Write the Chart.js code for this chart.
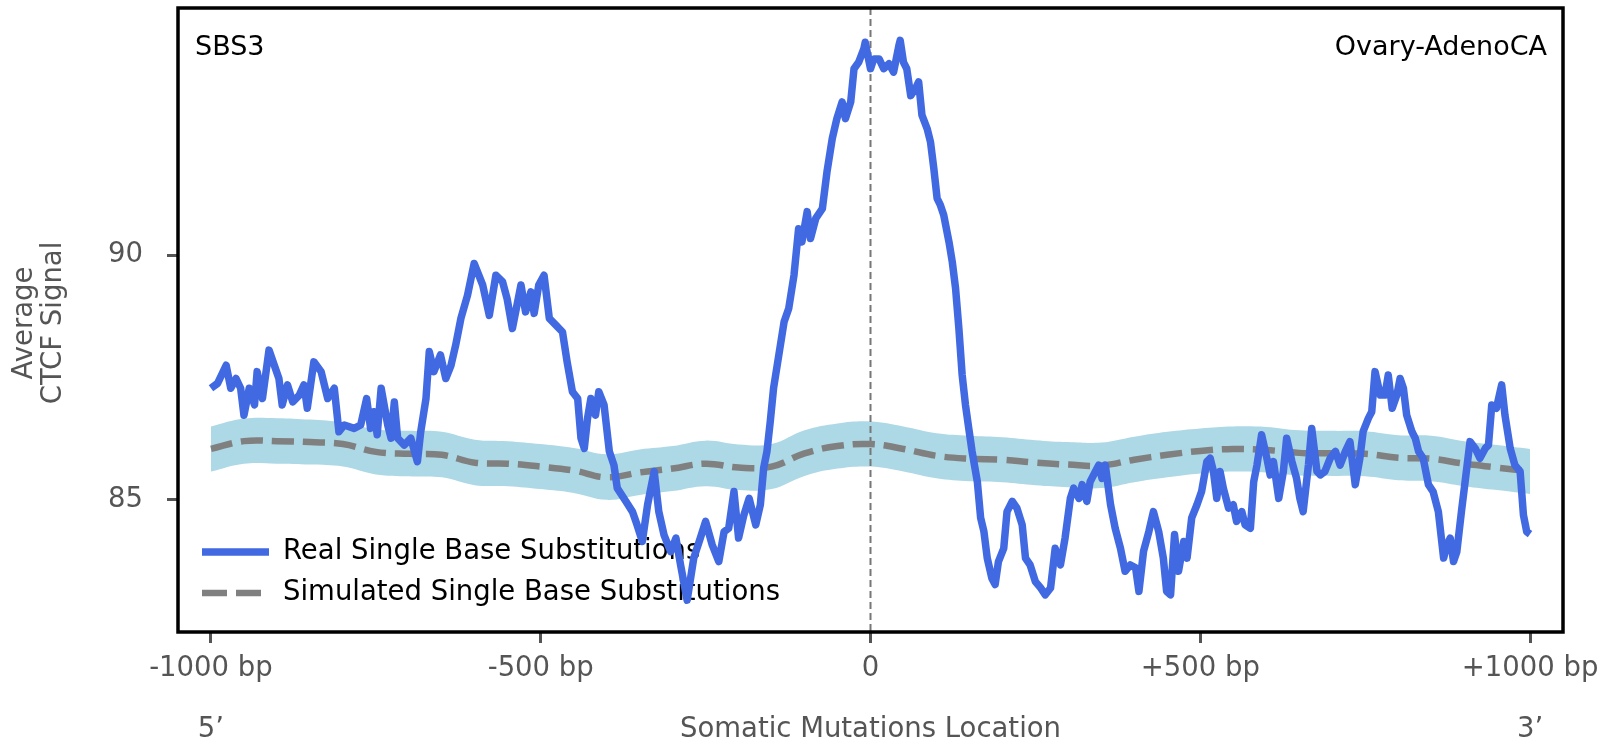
<!DOCTYPE html>
<html>
<head>
<meta charset="utf-8">
<script src="https://cdn.jsdelivr.net/npm/chart.js@4.4.0/dist/chart.umd.min.js"></script>
<style>
  html, body { margin: 0; padding: 0; background: #fff; }
  #wrap { width: 1610px; height: 756px; }
</style>
</head>
<body>
<div id="wrap"><canvas id="chart" width="1610" height="756"></canvas></div>
<script>
// Real SBS3 signal (bp offset from CTCF site, average signal)
const realBp = [
  -1000, -990, -977, -970, -962, -955, -950, -942, -934, -930, -922, -912, -904, -897, -892, -884,
  -876, -866, -859, -854, -844, -833, -823, -813, -806, -798, -783, -773, -764, -758, -753, -748,
  -742, -732, -727, -722, -717, -707, -697, -687, -682, -674, -669, -662, -652, -644, -636, -629,
  -621, -611, -601, -588, -578, -568, -558, -551, -543, -530, -523, -515, -510, -503, -495, -487,
  -477, -467, -460, -452, -444, -439, -434, -429, -424, -417, -412, -404, -396, -389, -384, -371,
  -361, -354, -346, -338, -328, -321, -313, -303, -295, -288, -278, -268, -258, -250, -240, -230,
  -222, -215, -207, -200, -192, -184, -174, -167, -162, -157, -152, -147, -139, -131, -124, -116,
  -109, -104, -96, -91, -83, -73, -66, -58, -51, -43, -38, -30, -25, -18, -10, -8,
  0, 5, 13, 20, 28, 35, 43, 45, 50, 55, 61, 68, 73, 78, 86, 91,
  96, 101, 106, 111, 119, 124, 129, 134, 139, 144, 149, 154, 162, 167, 172, 177,
  184, 189, 194, 202, 207, 215, 222, 230, 235, 242, 250, 258, 265, 273, 280, 288,
  295, 303, 308, 316, 321, 328, 333, 341, 346, 351, 356, 364, 371, 379, 386, 394,
  402, 407, 414, 422, 429, 437, 444, 449, 455, 461, 467, 475, 480, 487, 495, 502,
  510, 515, 520, 525, 530, 535, 543, 550, 555, 563, 568, 576, 581, 586, 593, 601,
  606, 611, 619, 626, 631, 639, 646, 651, 656, 664, 669, 677, 682, 689, 697, 705,
  712, 720, 727, 735, 742, 747, 755, 760, 765, 773, 780, 785, 791, 798, 803, 808,
  813, 821, 826, 831, 838, 846, 853, 861, 869, 874, 879, 884, 889, 896, 901, 909,
  917, 924, 932, 937, 942, 949, 957, 962, 970, 977, 985, 990, 995, 1000
];
const realSignal = [
  87.28, 87.38, 87.75, 87.28, 87.48, 87.28, 86.73, 87.28, 86.94, 87.62, 87.07, 88.06, 87.75, 87.48, 86.94, 87.35,
  87.0, 87.14, 87.35, 86.87, 87.82, 87.62, 87.07, 87.28, 86.39, 86.53, 86.46, 86.53, 87.07, 86.46, 86.8, 86.33,
  87.28, 86.53, 86.26, 87.0, 86.26, 86.12, 86.26, 85.78, 86.39, 87.07, 88.03, 87.62, 87.96, 87.48, 87.75, 88.16,
  88.71, 89.18, 89.83, 89.39, 88.77, 89.59, 89.46, 89.11, 88.5, 89.39, 88.84, 89.25, 88.81, 89.39, 89.59, 88.71,
  88.57, 88.43, 87.82, 87.21, 87.07, 86.26, 86.05, 86.67, 87.07, 86.73, 87.21, 86.94, 85.99, 85.71, 85.24, 84.97,
  84.76, 84.49, 84.15, 84.9, 85.58, 84.76, 84.28, 83.94, 84.22, 83.67, 82.95, 83.81, 84.22, 84.56, 84.08, 83.74,
  84.35, 84.42, 85.17, 84.22, 84.69, 85.03, 84.49, 84.9, 85.65, 85.99, 86.6, 87.28, 87.96, 88.64, 88.91, 89.59,
  90.54, 90.27, 90.89, 90.34, 90.75, 90.95, 91.7, 92.38, 92.79, 93.13, 92.79, 93.13, 93.81, 93.94, 94.22, 94.35,
  93.81, 94.01, 94.01, 93.81, 93.91, 93.74, 94.28, 94.39, 93.94, 93.81, 93.26, 93.4, 93.54, 92.86, 92.58, 92.31,
  91.77, 91.16, 91.02, 90.82, 90.27, 89.86, 89.32, 88.5, 87.55, 86.94, 86.46, 85.99, 85.37, 84.63, 84.35, 83.81,
  83.4, 83.27, 83.74, 84.01, 84.76, 84.97, 84.83, 84.49, 83.81, 83.67, 83.33, 83.2, 83.06, 83.2, 84.01, 83.67,
  84.22, 85.03, 85.24, 85.03, 85.31, 84.97, 85.37, 85.58, 85.71, 85.44, 85.71, 84.9, 84.42, 84.01, 83.54, 83.67,
  83.61, 83.13, 83.95, 84.35, 84.76, 84.35, 83.81, 83.13, 83.06, 84.29, 83.54, 84.15, 83.81, 84.63, 84.9, 85.17,
  85.78, 85.85, 85.58, 85.03, 85.58, 85.24, 84.83, 84.9, 84.56, 84.76, 84.49, 84.42, 85.37, 85.71, 86.33, 85.85,
  85.51, 85.78, 85.03, 85.58, 86.26, 85.78, 85.44, 85.03, 84.76, 85.71, 86.46, 85.58, 85.51, 85.58, 85.85, 85.99,
  85.71, 85.99, 86.19, 85.31, 85.85, 86.4, 86.67, 86.8, 87.62, 87.14, 87.14, 87.55, 86.87, 87.14, 87.48, 87.28,
  86.73, 86.39, 86.26, 85.99, 85.85, 85.31, 85.17, 84.76, 83.81, 84.08, 84.22, 83.74, 83.94, 84.76, 85.31, 86.19,
  86.05, 85.85, 86.05, 86.12, 86.94, 86.87, 87.35, 86.73, 86.05, 85.71, 85.58, 84.69, 84.35, 84.3
];

// Simulated signal with its band, every 50 bp
const simBp = [
  -1000, -950, -900, -850, -800, -750, -700, -650, -600, -550, -500, -450, -400, -350,
  -300, -250, -200, -150, -100, -50, 0, 50, 100, 150, 200, 250, 300, 350,
  400, 450, 500, 550, 600, 650, 700, 750, 800, 850, 900, 950, 1000
];
const simSignal = [
  86.04, 86.2, 86.2, 86.18, 86.14, 85.98, 85.94, 85.92, 85.76, 85.74, 85.68, 85.6, 85.46, 85.56,
  85.64, 85.74, 85.66, 85.68, 85.95, 86.1, 86.14, 86.04, 85.9, 85.84, 85.82, 85.76, 85.72, 85.7,
  85.82, 85.92, 86.0, 86.04, 86.02, 85.96, 85.95, 85.94, 85.86, 85.84, 85.74, 85.66, 85.58
];
const simUpper = [
  86.5, 86.66, 86.67, 86.64, 86.58, 86.44, 86.41, 86.39, 86.23, 86.2, 86.14, 86.06, 85.93, 86.03,
  86.1, 86.21, 86.13, 86.14, 86.42, 86.56, 86.6, 86.5, 86.36, 86.31, 86.28, 86.22, 86.18, 86.17,
  86.29, 86.39, 86.46, 86.5, 86.49, 86.42, 86.41, 86.4, 86.32, 86.31, 86.2, 86.12, 86.04
];
const simLower = [
  85.58, 85.74, 85.74, 85.72, 85.68, 85.52, 85.48, 85.46, 85.3, 85.28, 85.22, 85.14, 85.0, 85.1,
  85.18, 85.28, 85.2, 85.22, 85.49, 85.64, 85.68, 85.58, 85.44, 85.38, 85.36, 85.3, 85.26, 85.24,
  85.36, 85.46, 85.54, 85.58, 85.56, 85.5, 85.49, 85.48, 85.4, 85.38, 85.28, 85.2, 85.12
];

const xTicks = [-1000, -500, 0, 500, 1000];
const xTickLabels = ['-1000 bp', '-500 bp', '0', '+500 bp', '+1000 bp'];
const yTicks = [85, 90];

const FONT = '"DejaVu Sans", "Liberation Sans", sans-serif';
const GREY_TEXT = '#555555';

function pts(xs, ys) {
    return xs.map((x, i) => ({ x: x, y: ys[i] }));
}

// legend, centre line, frame and free texts
const decor = {
    id: 'decor',
    beforeDatasetsDraw(chart) {
        const ctx = chart.ctx;
        ctx.save();
        ctx.lineWidth = 7.5;
        ctx.strokeStyle = '#4169E1';
        ctx.beginPath();
        ctx.moveTo(202, 552);
        ctx.lineTo(269, 552);
        ctx.stroke();
        ctx.lineWidth = 6.5;
        ctx.strokeStyle = '#808080';
        ctx.setLineDash([25, 9]);
        ctx.beginPath();
        ctx.moveTo(202, 593);
        ctx.lineTo(269, 593);
        ctx.stroke();
        ctx.setLineDash([]);
        ctx.fillStyle = '#000';
        ctx.font = '27.5px ' + FONT;
        ctx.textAlign = 'left';
        ctx.textBaseline = 'middle';
        ctx.fillText('Real Single Base Substitutions', 283, 552);
        ctx.fillText('Simulated Single Base Substitutions', 283, 593);
        ctx.restore();
    },
    beforeDatasetDraw(chart, args) {
        if (args.index !== 1) return;
        const ctx = chart.ctx;
        const area = chart.chartArea;
        const x0 = chart.scales.x.getPixelForValue(0);
        ctx.save();
        ctx.strokeStyle = '#777';
        ctx.lineWidth = 2;
        ctx.setLineDash([7, 4]);
        ctx.beginPath();
        ctx.moveTo(x0, area.top);
        ctx.lineTo(x0, area.bottom);
        ctx.stroke();
        ctx.restore();
    },
    afterDraw(chart) {
        const ctx = chart.ctx;
        const a = chart.chartArea;
        ctx.save();
        ctx.strokeStyle = '#000';
        ctx.lineWidth = 3.5;
        ctx.strokeRect(a.left, a.top, a.right - a.left, a.bottom - a.top);

        ctx.fillStyle = '#000';
        ctx.font = '27px ' + FONT;
        ctx.textBaseline = 'middle';
        ctx.textAlign = 'left';
        ctx.fillText('SBS3', 195, 48);
        ctx.textAlign = 'right';
        ctx.fillText('Ovary-AdenoCA', 1547, 48);

        ctx.fillStyle = GREY_TEXT;
        ctx.font = '27.5px ' + FONT;
        ctx.textAlign = 'center';
        const xs = chart.scales.x;
        ctx.fillText('5\u2019', xs.getPixelForValue(-1000), 730);
        ctx.fillText('3\u2019', xs.getPixelForValue(1000), 730);
        ctx.fillText('Somatic Mutations Location', xs.getPixelForValue(0), 730);

        ctx.translate(38, 323);
        ctx.rotate(-Math.PI / 2);
        ctx.fillText('Average', 0, -13);
        ctx.fillText('CTCF Signal', 0, 16);
        ctx.restore();
    }
};

new Chart(document.getElementById('chart'), {
    type: 'line',
    data: {
        datasets: [
            {
                label: 'Real Single Base Substitutions',
                data: pts(realBp, realSignal),
                borderColor: '#4169E1',
                borderWidth: 7.5,
                borderJoinStyle: 'round',
                pointRadius: 0,
                tension: 0,
                fill: false,
                order: 0
            },
            {
                label: 'Simulated Single Base Substitutions',
                data: pts(simBp, simSignal),
                borderColor: '#808080',
                borderWidth: 6.5,
                borderDash: [22, 9],
                pointRadius: 0,
                tension: 0.4,
                fill: false,
                order: 1
            },
            {
                label: 'upper',
                data: pts(simBp, simUpper),
                borderWidth: 0,
                borderColor: 'rgba(0,0,0,0)',
                backgroundColor: '#ADD8E6',
                pointRadius: 0,
                tension: 0.4,
                fill: '+1',
                order: 2
            },
            {
                label: 'lower',
                data: pts(simBp, simLower),
                borderWidth: 0,
                borderColor: 'rgba(0,0,0,0)',
                pointRadius: 0,
                tension: 0.4,
                fill: false,
                order: 3
            }
        ]
    },
    options: {
        responsive: false,
        animation: false,
        devicePixelRatio: 1,
        layout: { padding: { left: 0, right: 47, top: 8, bottom: 0 } },
        plugins: {
            legend: { display: false },
            tooltip: { enabled: false }
        },
        scales: {
            x: {
                type: 'linear',
                min: -1050,
                max: 1050,
                afterBuildTicks: axis => { axis.ticks = xTicks.map(v => ({ value: v })); },
                afterFit: axis => {
                    axis.height = 124;
                    axis.paddingLeft = 0;
                    axis.paddingRight = 0;
                },
                ticks: {
                    autoSkip: false,
                    maxRotation: 0,
                    padding: 9,
                    color: GREY_TEXT,
                    font: { family: FONT, size: 27.5 },
                    callback: v => xTickLabels[xTicks.indexOf(v)]
                },
                grid: {
                    display: true,
                    drawOnChartArea: false,
                    drawTicks: true,
                    tickLength: 11,
                    tickWidth: 3,
                    tickColor: GREY_TEXT
                },
                border: { display: false }
            },
            y: {
                min: 82.3,
                max: 95.05,
                afterBuildTicks: axis => { axis.ticks = yTicks.map(v => ({ value: v })); },
                afterFit: axis => {
                    axis.width = 178;
                    axis.paddingTop = 0;
                    axis.paddingBottom = 0;
                },
                ticks: {
                    padding: 24,
                    color: GREY_TEXT,
                    font: { family: FONT, size: 27.5 },
                    callback: v => String(v)
                },
                grid: {
                    display: true,
                    drawOnChartArea: false,
                    drawTicks: true,
                    tickLength: 11,
                    tickWidth: 3,
                    tickColor: GREY_TEXT
                },
                border: { display: false }
            }
        }
    },
    plugins: [decor]
});
</script>
</body>
</html>
